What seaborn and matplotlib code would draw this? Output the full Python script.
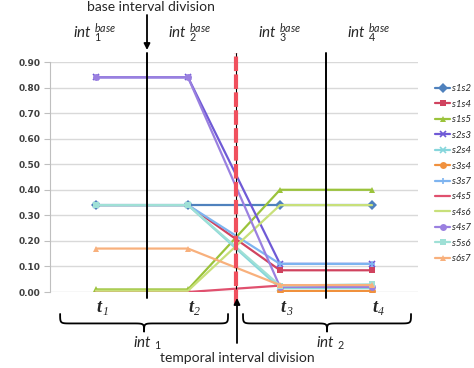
import numpy as np
import pandas as pd
import matplotlib
matplotlib.use('Agg')
import matplotlib.pyplot as plt
import seaborn as sns

# data
categories = ['t1', 't2', 't3', 't4']
s1s2 = [0.34, 0.34, 0.34, 0.34]
s1s4 = [0.34, 0.34, 0.085, 0.085]
s1s5 = [0.01, 0.01, 0.40, 0.40]
s2s3 = [0.84, 0.84, 0.11, 0.11]
s2s4 = [0.34, 0.34, 0.015, 0.015]
s3s4 = [np.nan, np.nan, 0.005, 0.005]
s3s7 = [0.34, 0.34, 0.11, 0.11]
s4s5 = [0.0, 0.0, 0.025, 0.025]
s4s6 = [0.005, 0.005, 0.34, 0.34]
s4s7 = [0.84, 0.84, 0.02, 0.02]
s5s6 = [0.34, 0.34, 0.025, 0.03]
s6s7 = [0.17, 0.17, 0.027, 0.027]

series_names = ['s1s2', 's1s4', 's1s5', 's2s3', 's2s4', 's3s4',
                's3s7', 's4s5', 's4s6', 's4s7', 's5s6', 's6s7']
series_values = [s1s2, s1s4, s1s5, s2s3, s2s4, s3s4,
                 s3s7, s4s5, s4s6, s4s7, s5s6, s6s7]
colors = ['#4f81bd', '#d0435f', '#9bc33b', '#6f5ad6', '#86d6dc', '#f0913e',
          '#7eb4f0', '#e0506e', '#c8e07a', '#9a80e0', '#9fe0d6', '#f8b07c']
markers = ['D', 's', '^', 'x', 'x', 'o', '+', None, None, 'o', 's', '^']

division_lines = [0.55, 2.5]   # base interval divisions (black)
temporal_line = 1.52           # temporal interval division (red dashed)

df = pd.DataFrame({'t': categories})
df['pos'] = np.arange(len(categories))
for name, vals in zip(series_names, series_values):
    df[name] = vals

sns.set_style('white')
plt.rcParams['font.family'] = ['Lato', 'DejaVu Sans']
plt.rcParams['mathtext.fontset'] = 'custom'
plt.rcParams['mathtext.it'] = 'Lato:italic'
plt.rcParams['mathtext.rm'] = 'Lato'

fig = plt.figure(figsize=(4.74, 3.68), dpi=100)
ax = fig.add_axes([50/474, 76/368, 368/474, 230/368])

for name, col, mk in zip(series_names, colors, markers):
    sns.lineplot(data=df, x='pos', y=name, ax=ax, color=col, marker=mk,
                 markersize=5, markeredgewidth=1.2 if mk in ('x', '+') else 0,
                 markeredgecolor=col, linewidth=1.6, label=name)

ax.set_xlim(-0.5, 3.5)
ax.set_ylim(0, 0.9)
ax.set_yticks(np.arange(0, 0.91, 0.1))
ax.set_yticklabels([f'{v:.2f}' for v in np.arange(0, 0.91, 0.1)],
                   fontsize=6.5, fontweight='bold', color='#404040',
                   family='DejaVu Sans')
ax.yaxis.grid(True, color='#d9d9d9', linewidth=1)
ax.set_axisbelow(True)
for s in ['top', 'right', 'bottom']:
    ax.spines[s].set_visible(False)
ax.spines['left'].set_color('#bfbfbf')
ax.tick_params(axis='y', left=True, length=4, color='#bfbfbf', pad=3)
ax.set_xticks(df['pos'])
ax.set_xticklabels([])
ax.tick_params(axis='x', bottom=False)
ax.set_xlabel('')
ax.set_ylabel('')

# category labels: bold italic t with italic subscript
for pos, c in zip(df['pos'], categories):
    ax.text(pos + 0.06, -0.079, c[0], ha='right', va='baseline', fontsize=13,
            family='Liberation Serif', fontweight='bold', fontstyle='italic',
            clip_on=False)
    ax.text(pos + 0.07, -0.09, c[1], ha='left', va='baseline', fontsize=8.5,
            family='Liberation Serif', fontstyle='italic', clip_on=False)

# division lines
for xv in division_lines:
    ax.plot([xv, xv], [-0.025, 0.935], color='black', lw=1.4, clip_on=False, zorder=5)
ax.plot([temporal_line]*2, [-0.02, 0.935], color='black', lw=0.8, clip_on=False, zorder=5)
ax.plot([temporal_line]*2, [-0.045, 0.935], color='#f0505e', lw=3,
        dashes=(3.5, 0.8), clip_on=False, zorder=6)

# curly braces below the axis
def bez(p0, p1, p2, p3, n=20):
    t = np.linspace(0, 1, n)[:, None]
    p0, p1, p2, p3 = map(np.array, (p0, p1, p2, p3))
    return (1-t)**3*p0 + 3*(1-t)**2*t*p1 + 3*(1-t)*t**2*p2 + t**3*p3

def brace(x0, x1, ytop=-0.086, ymid=-0.123, ybot=-0.155):
    xm = (x0 + x1) / 2
    r = 0.12
    parts = [bez((x0, ytop), (x0, ymid), (x0, ymid), (x0 + r, ymid)),
             bez((xm - r, ymid), (xm, ymid), (xm, ymid), (xm, ybot)),
             bez((xm, ybot), (xm, ymid), (xm, ymid), (xm + r, ymid)),
             bez((x1 - r, ymid), (x1, ymid), (x1, ymid), (x1, ytop))]
    pts = np.vstack(parts)
    ax.plot(pts[:, 0], pts[:, 1], color='black', lw=1.3, clip_on=False,
            solid_capstyle='round', solid_joinstyle='round')

brace(-0.39, 1.435)
brace(1.598, 3.424)

def fx(px):
    return px / 474

def fy(py):
    return 1 - py / 368

# arrows
for x_, y0, y1 in [(147, 15, 50), (237, 343, 298)]:
    fig.add_artist(plt.Annotation('', xy=(fx(x_), fy(y1)), xytext=(fx(x_), fy(y0)),
                                  xycoords='figure fraction', textcoords='figure fraction',
                                  arrowprops=dict(arrowstyle='-|>', color='black', lw=1.3,
                                                  mutation_scale=9, shrinkA=0, shrinkB=0)))

fig.text(fx(151), fy(7), 'base interval division', ha='center', va='center', fontsize=10)
fig.text(fx(237), fy(358), 'temporal interval division', ha='center', va='center', fontsize=10)

for i, xc in enumerate([95, 190, 280, 369]):
    fig.text(fx(xc), fy(33), rf'$\mathit{{int}}\ _{{\mathit{{{i+1}}}}}^{{\mathit{{base}}}}$',
             ha='center', va='center', fontsize=11)
for i, xc in enumerate([147, 330]):
    fig.text(fx(xc), fy(343), rf'$\mathit{{int}}\ _{{\mathit{{{i+1}}}}}$',
             ha='center', va='center', fontsize=11)

leg = ax.legend(loc='upper left', bbox_to_anchor=(1.027, 0.932), frameon=False,
                fontsize=7, handlelength=1.6, labelspacing=0.66,
                handletextpad=0.2, borderaxespad=0.3)
for t in leg.get_texts():
    t.set_fontstyle('italic')

fig.savefig('out.png', dpi=100)
